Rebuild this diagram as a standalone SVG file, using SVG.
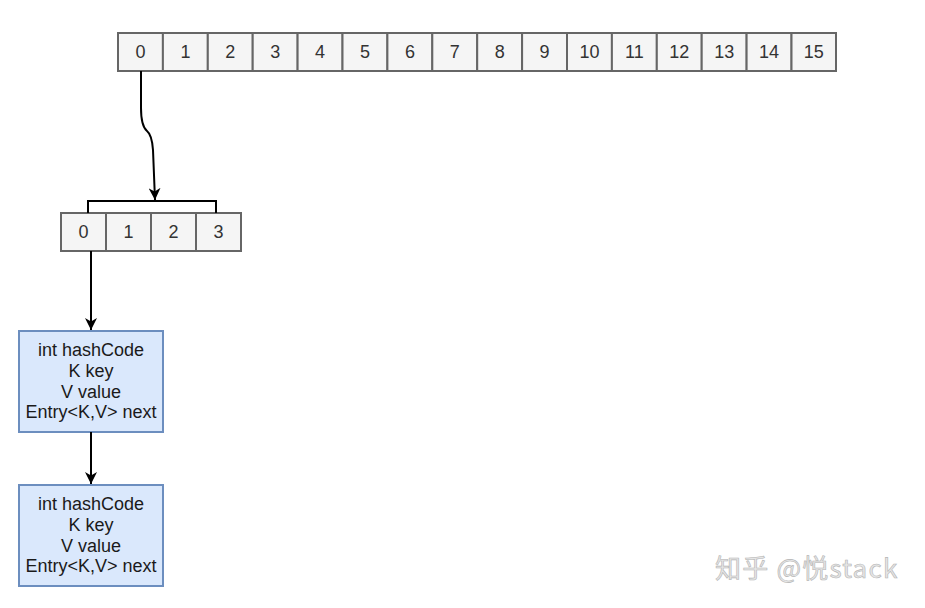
<svg xmlns="http://www.w3.org/2000/svg" width="925" height="608" viewBox="0 0 925 608">
<style>
.cell{fill:#f5f5f5;stroke:#666666;stroke-width:2}
.num{font-family:"Liberation Sans",Arial,sans-serif;font-size:18px;fill:#333333;text-anchor:middle}
.entry{fill:#dae8fc;stroke:#6c8ebf;stroke-width:2}
.et{font-family:"Liberation Sans",Arial,sans-serif;font-size:18px;fill:#1a1a1a;text-anchor:middle}
.conn{fill:none;stroke:#000000;stroke-width:2}
.wm{font-family:"Noto Sans CJK SC","Liberation Sans",sans-serif;font-size:26px;letter-spacing:1.2px;fill:#e6e6e6;stroke:#b4b4b4;stroke-width:0.6}
</style>
<defs>
<marker id="arr" viewBox="0 0 10 10" refX="10" refY="5" markerWidth="12" markerHeight="12" markerUnits="userSpaceOnUse" orient="auto">
<path d="M0,0 L10,5 L0,10 L3,5 z" fill="#000000"/>
</marker>
</defs>
<rect width="925" height="608" fill="#ffffff"/>
<g id="table16">
<rect class="cell" x="118" y="33" width="44.9" height="38"/><text class="num" x="140.5" y="58">0</text>
<rect class="cell" x="162.9" y="33" width="44.9" height="38"/><text class="num" x="185.4" y="58">1</text>
<rect class="cell" x="207.8" y="33" width="44.9" height="38"/><text class="num" x="230.3" y="58">2</text>
<rect class="cell" x="252.7" y="33" width="44.9" height="38"/><text class="num" x="275.2" y="58">3</text>
<rect class="cell" x="297.6" y="33" width="44.9" height="38"/><text class="num" x="320.1" y="58">4</text>
<rect class="cell" x="342.5" y="33" width="44.9" height="38"/><text class="num" x="365" y="58">5</text>
<rect class="cell" x="387.4" y="33" width="44.9" height="38"/><text class="num" x="409.9" y="58">6</text>
<rect class="cell" x="432.3" y="33" width="44.9" height="38"/><text class="num" x="454.8" y="58">7</text>
<rect class="cell" x="477.2" y="33" width="44.9" height="38"/><text class="num" x="499.7" y="58">8</text>
<rect class="cell" x="522.1" y="33" width="44.9" height="38"/><text class="num" x="544.6" y="58">9</text>
<rect class="cell" x="567" y="33" width="44.9" height="38"/><text class="num" x="589.5" y="58">10</text>
<rect class="cell" x="611.9" y="33" width="44.9" height="38"/><text class="num" x="634.4" y="58">11</text>
<rect class="cell" x="656.8" y="33" width="44.9" height="38"/><text class="num" x="679.3" y="58">12</text>
<rect class="cell" x="701.7" y="33" width="44.9" height="38"/><text class="num" x="724.2" y="58">13</text>
<rect class="cell" x="746.6" y="33" width="44.9" height="38"/><text class="num" x="769.1" y="58">14</text>
<rect class="cell" x="791.5" y="33" width="44.5" height="38"/><text class="num" x="813.8" y="58">15</text>
</g>
<g id="table4">
<rect class="cell" x="61" y="213" width="45" height="38"/><text class="num" x="83.5" y="238">0</text>
<rect class="cell" x="106" y="213" width="45" height="38"/><text class="num" x="128.5" y="238">1</text>
<rect class="cell" x="151" y="213" width="45" height="38"/><text class="num" x="173.5" y="238">2</text>
<rect class="cell" x="196" y="213" width="45" height="38"/><text class="num" x="218.5" y="238">3</text>
</g>
<g id="entry1">
<rect class="entry" x="19" y="331" width="144" height="101"/>
<text class="et" x="91" y="356">int hashCode</text>
<text class="et" x="91" y="377">K key</text>
<text class="et" x="91" y="397.5">V value</text>
<text class="et" x="91" y="418">Entry&lt;K,V&gt; next</text>
</g>
<g id="entry2">
<rect class="entry" x="19" y="485" width="144" height="101"/>
<text class="et" x="91" y="510">int hashCode</text>
<text class="et" x="91" y="531">K key</text>
<text class="et" x="91" y="551.5">V value</text>
<text class="et" x="91" y="572">Entry&lt;K,V&gt; next</text>
</g>
<g id="connectors">
<path class="conn" d="M88,213 L88,201 L216,201 L216,213"/>
<path class="conn" d="M141,71 L141,108 Q141,126 147,131 Q152,135 153,150 L155,200" marker-end="url(#arr)"/>
<path class="conn" d="M91,251 L91,330" marker-end="url(#arr)"/>
<path class="conn" d="M91,432 L91,484" marker-end="url(#arr)"/>
</g>
<text class="wm" x="715" y="578">知乎 @悦stack</text>
</svg>
